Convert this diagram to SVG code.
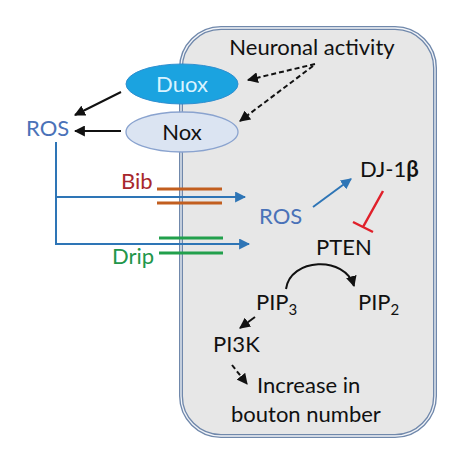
<svg xmlns="http://www.w3.org/2000/svg" width="474" height="465" viewBox="0 0 474 465">
<defs>
<style>
text{font-family:"Lato","Liberation Sans",sans-serif;font-size:22px;fill:#111}
.blue{fill:#4a72b8}
.k{stroke:#111;stroke-width:2;fill:none}
.kd{stroke:#111;stroke-width:2;fill:none;stroke-dasharray:5,3}
.b{stroke:#2e75b6;stroke-width:2;fill:none}
</style>
<marker id="ak" viewBox="0 0 10 10" refX="9" refY="5" markerWidth="5.5" markerHeight="5.5" orient="auto"><path d="M0,0 L10,5 L0,10 z" fill="#111"/></marker>
<marker id="ab" viewBox="0 0 10 10" refX="9" refY="5" markerWidth="5.5" markerHeight="5.5" orient="auto"><path d="M0,0 L10,5 L0,10 z" fill="#2e75b6"/></marker>
</defs>
<rect width="474" height="465" fill="#fff"/>
<g id="cell">
<rect x="181" y="28" width="254" height="408" rx="40" fill="#e7e7e7" stroke="#7088ab" stroke-width="4"/>
<rect x="181" y="28" width="254" height="408" rx="40" fill="none" stroke="#f2f4f8" stroke-width="1.3"/>
</g>
<g id="connectors">
<path class="kd" d="M315,64 L248,80" marker-end="url(#ak)"/>
<path class="kd" d="M313,66 L240,121" marker-end="url(#ak)"/>
<path class="k" d="M121,92 L75,115" marker-end="url(#ak)"/>
<path class="k" d="M121,131 L75,131" marker-end="url(#ak)"/>
<path class="b" d="M56,142 L56,244 L249,244" marker-end="url(#ab)"/>
<path class="b" d="M56,197 L245,197" marker-end="url(#ab)"/>
<path class="b" d="M313,207 L351,179" marker-end="url(#ab)"/>
<path d="M383,191 L363,227 M353,222 L373,232" stroke="#e0202a" stroke-width="2.5" fill="none"/>
<path class="k" d="M286,289 C290,258 345,255 354,286" marker-end="url(#ak)"/>
<path d="M255,317 L240,328" class="k" stroke-width="1.5" marker-end="url(#ak)"/>
<path class="kd" d="M232,365 L247,384" stroke-width="1.8" marker-end="url(#ak)"/>
</g>
<g id="bib">
<path d="M157,189 L222,189 M157,203 L222,203" stroke="#c25e1f" stroke-width="3"/>
<text x="121" y="189" style="fill:#a8282c">Bib</text>
</g>
<g id="drip">
<path d="M159,238 L223,238 M159,253 L223,253" stroke="#22a04c" stroke-width="3"/>
<text x="112" y="264" style="fill:#22964a">Drip</text>
</g>
<g id="duox">
<ellipse cx="182" cy="84" rx="56" ry="20" fill="#1ba3e0" stroke="#2f8fd0" stroke-width="1"/>
<text x="182" y="92" text-anchor="middle" style="fill:#d9f3ff">Duox</text>
</g>
<g id="nox">
<ellipse cx="182" cy="132" rx="56" ry="20" fill="#dbe4f2" stroke="#8aa3cf" stroke-width="1.3"/>
<text x="182" y="140" text-anchor="middle">Nox</text>
</g>
<g id="neuronal"><text x="312" y="55" text-anchor="middle">Neuronal activity</text></g>
<g id="ros-out"><text x="26" y="136" class="blue">ROS</text></g>
<g id="ros-in"><text x="259" y="224" class="blue">ROS</text></g>
<g id="dj1"><text x="360" y="177">DJ-1<tspan font-weight="bold">β</tspan></text></g>
<g id="pten"><text x="316" y="255">PTEN</text></g>
<g id="pip3"><text x="256" y="310">PIP<tspan font-size="15" dy="5">3</tspan></text></g>
<g id="pip2"><text x="358" y="310">PIP<tspan font-size="15" dy="5">2</tspan></text></g>
<g id="pi3k"><text x="213" y="352">PI3K</text></g>
<g id="bouton">
<text x="257" y="393">Increase in</text>
<text x="231" y="422">bouton number</text>
</g>
</svg>
